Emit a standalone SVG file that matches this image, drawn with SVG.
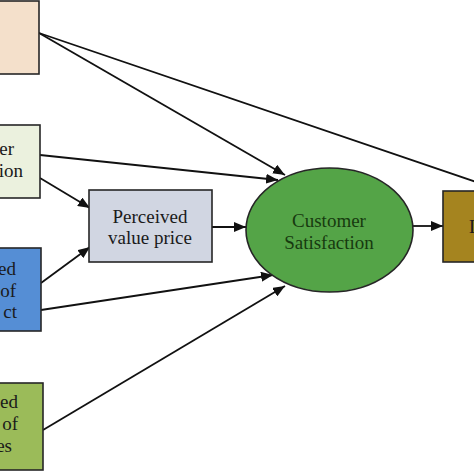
<svg xmlns="http://www.w3.org/2000/svg" width="474" height="474" viewBox="0 0 474 474">
<style>
.box{stroke:#262626;stroke-width:1.6}
.t{font-family:"Liberation Serif","Times New Roman",serif;font-size:19px;fill:#1a1a1a}
.c{stroke:#111;stroke-width:1.8;fill:none}
</style>
<defs>
<marker id="ah" markerUnits="userSpaceOnUse" markerWidth="12" markerHeight="10" viewBox="0 0 12 10" refX="12" refY="5" orient="auto">
<path d="M0,0 L12,5 L0,10 Z" fill="#111"/>
</marker>
</defs>
<rect width="474" height="474" fill="#fff"/>
<g id="connectors">
<line class="c" x1="39" y1="33" x2="476" y2="182"/>
<line class="c" x1="39" y1="33" x2="285" y2="175" marker-end="url(#ah)"/>
<line class="c" x1="40" y1="155" x2="278" y2="180" marker-end="url(#ah)"/>
<line class="c" x1="40" y1="178" x2="90" y2="208" marker-end="url(#ah)"/>
<line class="c" x1="41" y1="283" x2="90" y2="247" marker-end="url(#ah)"/>
<line class="c" x1="41" y1="310" x2="273" y2="275" marker-end="url(#ah)"/>
<line class="c" x1="43" y1="430" x2="285" y2="286" marker-end="url(#ah)"/>
<line class="c" x1="212" y1="227" x2="246" y2="227" marker-end="url(#ah)"/>
<line class="c" x1="413" y1="226" x2="443" y2="226" marker-end="url(#ah)"/>
</g>
<g id="node1">
<rect class="box" x="-10" y="1" width="49" height="73" fill="#F4E0CB"/>
</g>
<g id="node2">
<rect class="box" x="-10" y="125" width="50" height="73" fill="#EBF1DE"/>
<text class="t" x="14" y="155" text-anchor="end">er</text>
<text class="t" x="23" y="177" text-anchor="end">ion</text>
</g>
<g id="node3">
<rect class="box" x="-10" y="248" width="51" height="83" fill="#558ED5"/>
<text class="t" x="16" y="275" text-anchor="end">ed</text>
<text class="t" x="16" y="297" text-anchor="end">of</text>
<text class="t" x="17" y="318" text-anchor="end">ct</text>
</g>
<g id="node4">
<rect class="box" x="-10" y="383" width="53" height="87" fill="#9BBB59"/>
<text class="t" x="18" y="408" text-anchor="end">ed</text>
<text class="t" x="18" y="430" text-anchor="end">of</text>
<text class="t" x="12" y="452" text-anchor="end">es</text>
</g>
<g id="perceived">
<rect class="box" x="89" y="190" width="123" height="72" fill="#D1D6E2"/>
<text class="t" x="150" y="223" text-anchor="middle">Perceived</text>
<text class="t" x="150" y="244" text-anchor="middle">value price</text>
</g>
<g id="satisfaction">
<ellipse class="box" cx="329.5" cy="230" rx="83.5" ry="62" fill="#54A447" stroke-width="1.8"/>
<text class="t" x="329" y="227" text-anchor="middle" fill="#173A0F" style="fill:#173A0F">Customer</text>
<text class="t" x="329" y="249" text-anchor="middle" style="fill:#173A0F">Satisfaction</text>
</g>
<g id="loyalty">
<rect class="box" x="443" y="191" width="40" height="71" fill="#A5841F"/>
<text class="t" x="469" y="233">L</text>
</g>
</svg>
